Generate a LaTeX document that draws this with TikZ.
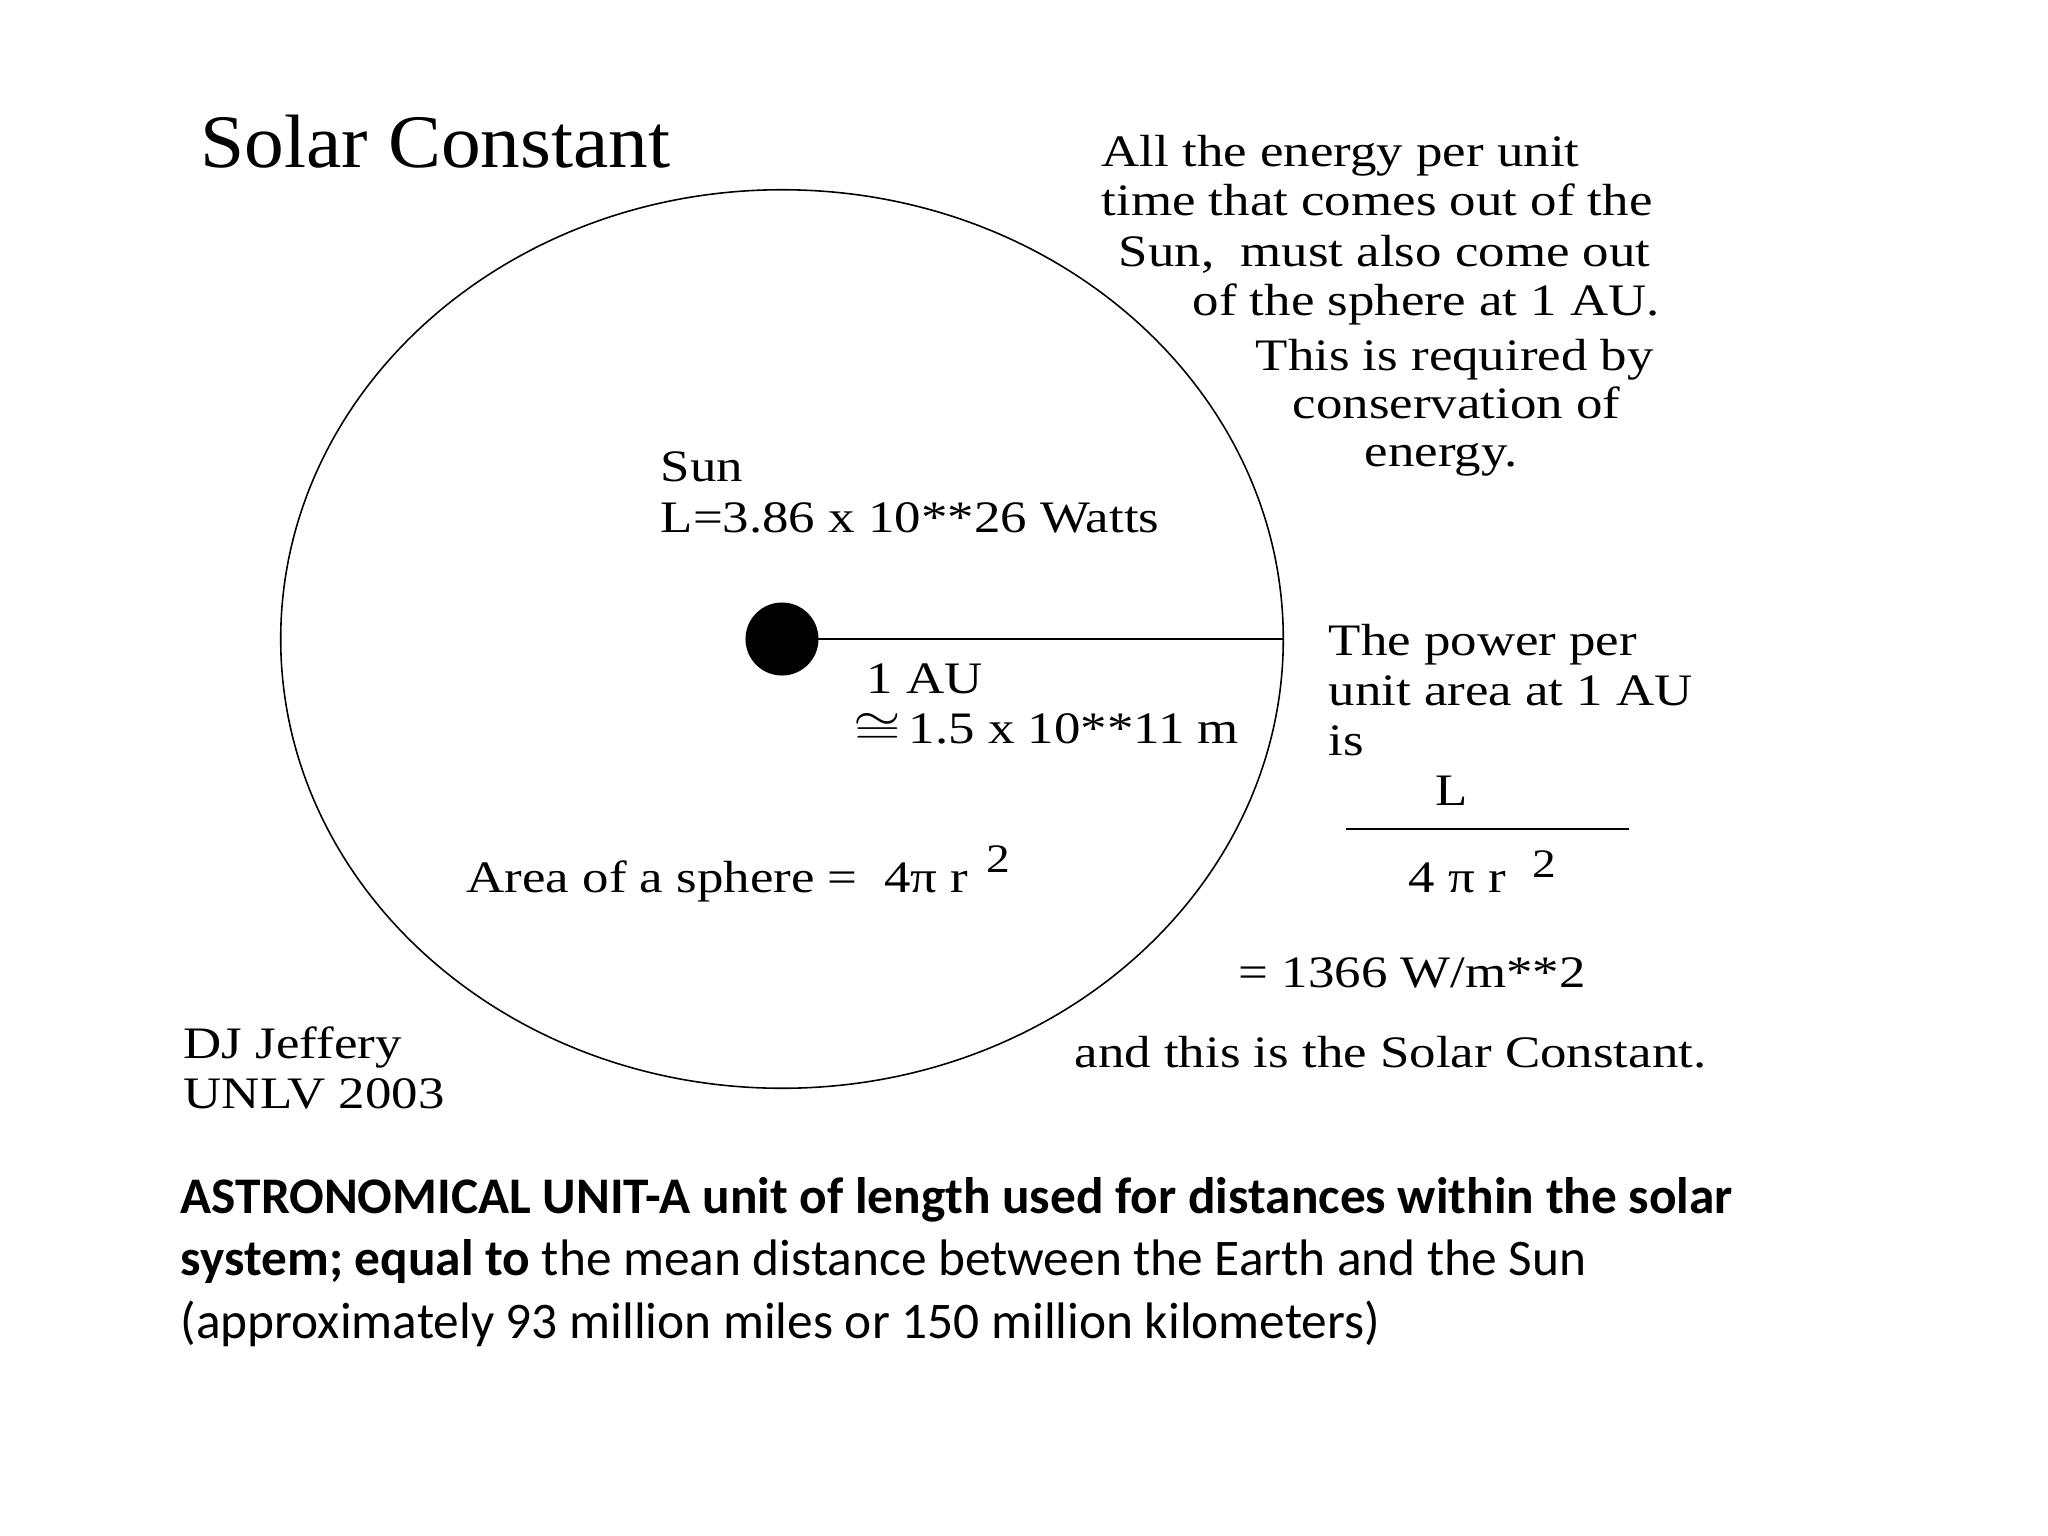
\documentclass[tikz,border=0pt]{standalone}
\usepackage{fontspec}
\setmainfont{Liberation Serif}[FakeStretch=1.175]
\newfontfamily\titlefont{Liberation Serif}[FakeStretch=1.05]
\newfontfamily\calib{Carlito}
\usepackage{graphicx}
\usetikzlibrary{shapes.geometric}
\begin{document}
\begin{tikzpicture}[x=0.01cm,y=-0.01cm,
  lbl/.style={anchor=base west,inner sep=0pt,font=\fontsize{12.8}{15}\selectfont},
  sup/.style={anchor=base west,inner sep=0pt,font=\fontsize{11.5}{13}\selectfont},
  ttl/.style={anchor=base west,inner sep=0pt,font=\titlefont\fontsize{21.5}{25}\selectfont},
  foot/.style={anchor=base west,inner sep=0pt,font=\calib\fontsize{14.6}{17}\selectfont},
  thinline/.style={line width=0.45pt}]
\useasboundingbox (0,0) rectangle (2048,1536);
\fill[white] (0,0) rectangle (2048,1536);

\node[ttl] (title) at (200,167) {Solar Constant};

\node[ellipse,draw,thinline,minimum width=10.02cm,minimum height=8.98cm,inner sep=0pt] (orbit) at (782,639) {};
\node[circle,fill=black,minimum size=0.73cm,inner sep=0pt] (sun) at (782,639) {};
\draw[thinline] (sun.center) -- (orbit.east);

\node[lbl] (t1) at (1101,166) {All the energy per unit};
\node[lbl] (t2) at (1101,215) {time that comes out of the};
\node[lbl] (t3) at (1118,266) {Sun,\ \ must also come out};
\node[lbl] (t4) at (1192,315) {of the sphere at 1 AU.};
\node[lbl] (t5) at (1255,370) {This is required by};
\node[lbl] (t6) at (1292,418) {conservation of};
\node[lbl] (t7) at (1364,466) {energy.};

\node[lbl] (sunlbl) at (660,481) {Sun};
\node[lbl] (lum) at (660,532) {L=3.86 x 10**26 Watts};

\node[lbl] (au) at (866,693) {1 AU};
\node[lbl] (dist) at (853,743) {\scalebox{1.45}[1.1]{$\cong$}\,1.5 x 10**11 m};

\node[lbl] (area) at (466,892) {Area of a sphere =\ \ 4π r};
\node[sup] (area2) at (986,872) {2};

\node[lbl] (p1) at (1328,655) {The power per};
\node[lbl] (p2) at (1328,705) {unit area at 1 AU};
\node[lbl] (p3) at (1328,755) {is};
\node[lbl] (numL) at (1435,805) {L};
\coordinate (fracA) at (1346,829);
\coordinate (fracB) at (1629,829);
\draw[line width=0.6pt] (fracA) -- (fracB);
\node[lbl] (den) at (1408,892) {4 π r};
\node[sup] (den2) at (1532,877) {2};

\node[lbl] (val) at (1238,987) {= 1366 W/m**2};
\node[lbl] (sc) at (1074,1067) {and this is the Solar Constant.};

\node[lbl] (dj) at (183,1058) {DJ Jeffery};
\node[lbl] (unlv) at (183,1108) {UNLV 2003};

\node[foot] (f1) at (180,1213) {\bfseries ASTRONOMICAL UNIT-A unit of length used for distances within the solar};
\node[foot] (f2) at (180,1275) {\textbf{system; equal to} the mean distance between the Earth and the Sun};
\node[foot] (f3) at (180,1338) {(approximately 93 million miles or 150 million kilometers)};
\end{tikzpicture}
\end{document}
